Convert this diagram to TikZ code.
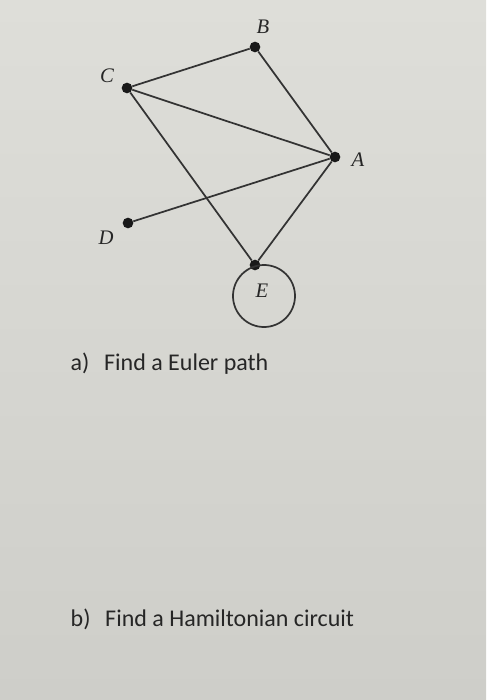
\documentclass[tikz,border=0pt]{standalone}
\usepackage{fontspec}
\setmainfont{Carlito}
\newfontfamily\graphfont{Liberation Serif}
\begin{document}
\begin{tikzpicture}[x=0.75pt,y=-0.75pt,
  vtx/.style={circle,fill=black!90,inner sep=0pt,minimum size=8pt},
  lbl/.style={font=\graphfont\itshape\fontsize{15.5}{17}\selectfont,text=black!85},
  edge/.style={draw=black!80,line width=1.3pt},
  qtext/.style={anchor=base west,font=\fontsize{18}{21}\selectfont,text=black!85}]
\shade[top color={rgb,255:red,222;green,222;blue,217},bottom color={rgb,255:red,206;green,206;blue,201}] (0,0) rectangle (486,700);
\useasboundingbox (0,0) rectangle (486,700);
\node[vtx] (B) at (255,47) {};
\node[vtx] (C) at (127,88) {};
\node[vtx] (A) at (335,157) {};
\node[vtx] (D) at (128,223) {};
\node[vtx] (E) at (255,265) {};
\coordinate (Ec) at (264,296);
\node[lbl] (lB) at (263,27) {B};
\node[lbl] (lC) at (107,76) {C};
\node[lbl] (lA) at (358,160) {A};
\node[lbl] (lD) at (106,238) {D};
\node[lbl] (lE) at (262,291) {E};
\draw[edge] (C) -- (B);
\draw[edge] (B) -- (A);
\draw[edge] (C) -- (A);
\draw[edge] (C) -- (E);
\draw[edge] (D) -- (A);
\draw[edge] (A) -- (E);
\draw[edge] (Ec) circle[radius=31];
\node[qtext] (qa) at (66,370) {a)\hspace{11pt}Find a Euler path};
\node[qtext] (qb) at (66,626) {b)\hspace{11pt}Find a Hamiltonian circuit};
\end{tikzpicture}
\end{document}
